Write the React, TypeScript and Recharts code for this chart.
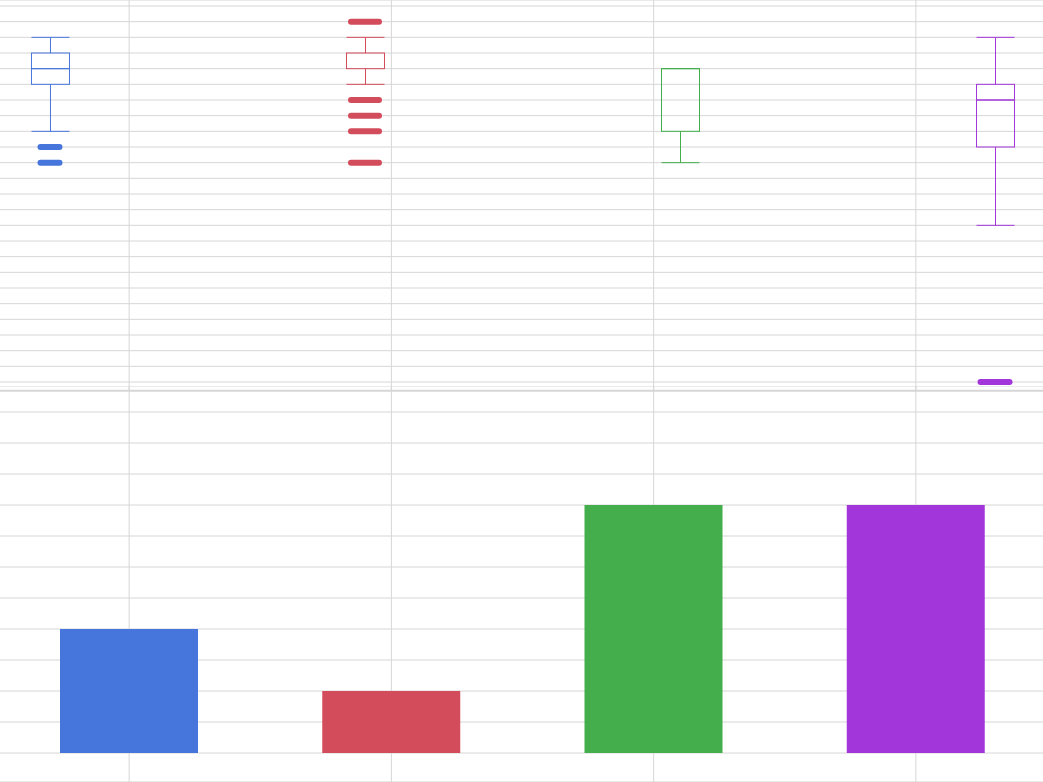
import {
  ComposedChart,
  BarChart,
  Bar,
  Scatter,
  Cell,
  XAxis,
  YAxis,
  CartesianGrid,
  ReferenceLine,
} from "recharts";

// groups (no labels are shown in the picture)
const GROUPS = ["A", "B", "C", "D"];
const COLORS = ["#4676db", "#d34c5b", "#43ae4b", "#a236da"];

// box plot statistics, one per group
const MINS = [16, 19, 14, 10];
const Q1S = [19, 20, 16, 15];
const MEDIANS = [20, 20, 16, 18];
const Q3S = [21, 21, 20, 19];
const MAXES = [22, 22, 20, 22];

// outliers per group
const OUTLIERS_A = [15, 14];
const OUTLIERS_B = [23, 18, 17, 16, 14];
const OUTLIERS_D = [0];

// bar panel
const BAR_VALUES = [4, 2, 8, 8];

const TOP_TICKS = [0, 1, 2, 3, 4, 5, 6, 7, 8, 9, 10, 11, 12, 13, 14, 15, 16, 17, 18, 19, 20, 21, 22, 23, 24];
const BOTTOM_TICKS = [0, 1, 2, 3, 4, 5, 6, 7, 8, 9, 10, 11];
const POS_TICKS = [0, 1, 2, 3];

const GRID = "#d6d6d6";
const WIDTH = 1049;

const boxData = GROUPS.map((g, i) => ({
  group: g,
  pos: i,
  base: MINS[i],
  lowWhisker: Q1S[i] - MINS[i],
  lowBox: MEDIANS[i] - Q1S[i],
  highBox: Q3S[i] - MEDIANS[i],
  highWhisker: MAXES[i] - Q3S[i],
}));

const outlierData = (vals: number[], i: number) =>
  vals.map((v) => ({ group: GROUPS[i], pos: i, value: v }));

const barData = GROUPS.map((g, i) => ({ group: g, value: BAR_VALUES[i] }));

const colorOf = (p: any) => COLORS[p?.payload?.pos ?? p?.index ?? 0];

const LowWhisker = (p: any) => {
  const c = colorOf(p);
  const cx = p.x + p.width / 2;
  const bottom = p.y + p.height;
  return (
    <g>
      <line x1={cx} y1={p.y} x2={cx} y2={bottom} stroke={c} strokeWidth={1} />
      <line x1={p.x} y1={bottom} x2={p.x + p.width} y2={bottom} stroke={c} strokeWidth={1} />
    </g>
  );
};

const HighWhisker = (p: any) => {
  const c = colorOf(p);
  const cx = p.x + p.width / 2;
  return (
    <g>
      <line x1={cx} y1={p.y} x2={cx} y2={p.y + p.height} stroke={c} strokeWidth={1} />
      <line x1={p.x} y1={p.y} x2={p.x + p.width} y2={p.y} stroke={c} strokeWidth={1} />
    </g>
  );
};

const BoxPart = (p: any) => (
  <rect x={p.x} y={p.y} width={p.width} height={p.height} fill="none" stroke={colorOf(p)} strokeWidth={1} />
);

const pill = (w: number, color: string) => (p: any) =>
  <rect x={p.cx - w / 2} y={p.cy - 3} width={w} height={6} rx={3} fill={color} />;

export default function App() {
  return (
    <div
      style={{
        position: "absolute",
        left: 0,
        top: 0,
        width: 1043,
        height: 782,
        overflow: "hidden",
        background: "#fff",
      }}
    >
      <div style={{ position: "absolute", left: -2, top: 0 }}>
        <ComposedChart width={WIDTH} height={391} data={boxData} margin={{ top: 0, right: 0, bottom: 0, left: 0 }}>
          <CartesianGrid xAxisId="grid" stroke={GRID} />
          <XAxis xAxisId="grid" dataKey="group" type="category" hide />
          <XAxis
            xAxisId="box"
            dataKey="pos"
            type="number"
            domain={[-0.165, 3.165]}
            ticks={POS_TICKS}
            allowDataOverflow
            hide
          />
          <YAxis type="number" domain={[-0.574, 24.383]} ticks={TOP_TICKS} interval={0} allowDataOverflow hide />
          <Bar xAxisId="box" dataKey="base" stackId="box" barSize={38} fill="none" shape={() => <g />} isAnimationActive={false} />
          <Bar xAxisId="box" dataKey="lowWhisker" stackId="box" barSize={38} shape={LowWhisker} isAnimationActive={false} />
          <Bar xAxisId="box" dataKey="lowBox" stackId="box" barSize={38} shape={BoxPart} isAnimationActive={false} />
          <Bar xAxisId="box" dataKey="highBox" stackId="box" barSize={38} shape={BoxPart} isAnimationActive={false} />
          <Bar xAxisId="box" dataKey="highWhisker" stackId="box" barSize={38} shape={HighWhisker} isAnimationActive={false} />
          <Scatter xAxisId="box" data={outlierData(OUTLIERS_A, 0)} dataKey="value" shape={pill(25, COLORS[0])} isAnimationActive={false} />
          <Scatter xAxisId="box" data={outlierData(OUTLIERS_B, 1)} dataKey="value" shape={pill(34, COLORS[1])} isAnimationActive={false} />
          <Scatter xAxisId="box" data={outlierData(OUTLIERS_D, 3)} dataKey="value" shape={pill(35, COLORS[3])} isAnimationActive={false} />
        </ComposedChart>
      </div>
      <div style={{ position: "absolute", left: -2, top: 386 }}>
        <BarChart width={WIDTH} height={396} data={barData} margin={{ top: 0, right: 0, bottom: 0, left: 0 }}>
          <CartesianGrid stroke={GRID} />
          <XAxis dataKey="group" type="category" hide />
          <YAxis type="number" domain={[-0.935, 11.839]} ticks={BOTTOM_TICKS} interval={0} allowDataOverflow hide />
          <ReferenceLine y={11.687} stroke={GRID} strokeWidth={2} />
          <Bar dataKey="value" barSize={138} isAnimationActive={false}>
            {barData.map((d, i) => (
              <Cell key={d.group} fill={COLORS[i]} />
            ))}
          </Bar>
        </BarChart>
      </div>
    </div>
  );
}
